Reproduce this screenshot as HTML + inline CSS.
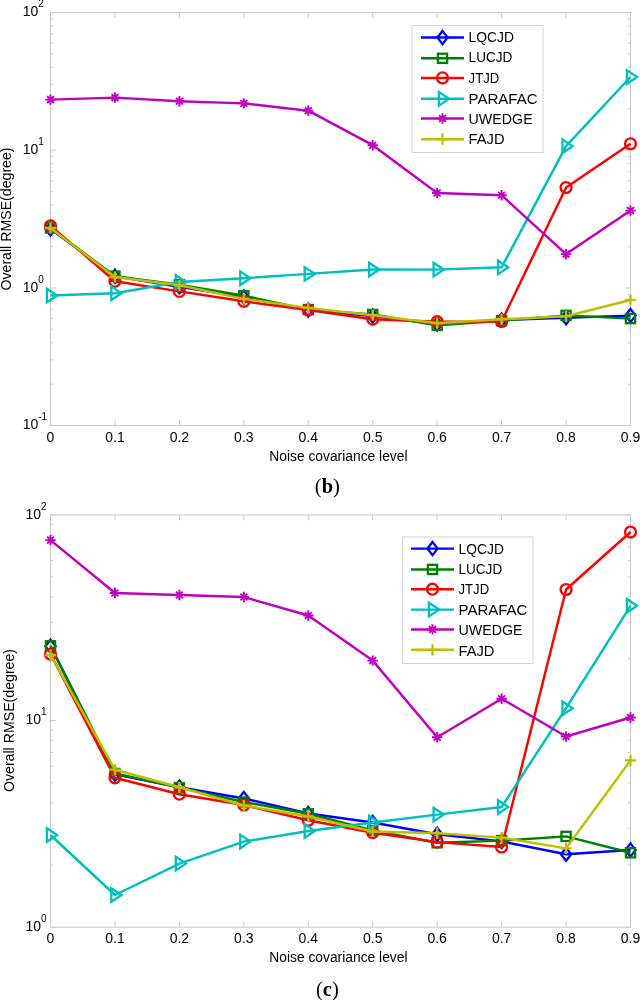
<!DOCTYPE html>
<html><head><meta charset="utf-8"><style>
html,body{margin:0;padding:0;background:#fff;width:640px;height:1000px;overflow:hidden}
svg{display:block}
.t{font-family:"Liberation Sans",Arial,sans-serif;font-size:14px;fill:#000}
.s{font-family:"Liberation Sans",Arial,sans-serif;font-size:10px;fill:#000}
.y{font-family:"Liberation Sans",Arial,sans-serif;font-size:14.6px;fill:#000}
.g{font-family:"Liberation Sans",Arial,sans-serif;font-size:15px;fill:#000}
.L{font-family:"Liberation Serif","Times New Roman",serif;font-size:20.5px;fill:#000}
</style></head><body>
<svg width="640" height="1000" viewBox="0 0 640 1000">
<rect x="50.5" y="12.5" width="580.0" height="413.0" fill="none" stroke="#cacaca" stroke-width="1"/>
<path d="M50.50 425.5v-5.5M50.50 12.5v5.5" stroke="#cacaca" stroke-width="1"/>
<text x="50.50" y="441.5" text-anchor="middle" class="t">0</text>
<path d="M114.94 425.5v-5.5M114.94 12.5v5.5" stroke="#cacaca" stroke-width="1"/>
<text x="114.94" y="441.5" text-anchor="middle" class="t">0.1</text>
<path d="M179.39 425.5v-5.5M179.39 12.5v5.5" stroke="#cacaca" stroke-width="1"/>
<text x="179.39" y="441.5" text-anchor="middle" class="t">0.2</text>
<path d="M243.83 425.5v-5.5M243.83 12.5v5.5" stroke="#cacaca" stroke-width="1"/>
<text x="243.83" y="441.5" text-anchor="middle" class="t">0.3</text>
<path d="M308.28 425.5v-5.5M308.28 12.5v5.5" stroke="#cacaca" stroke-width="1"/>
<text x="308.28" y="441.5" text-anchor="middle" class="t">0.4</text>
<path d="M372.72 425.5v-5.5M372.72 12.5v5.5" stroke="#cacaca" stroke-width="1"/>
<text x="372.72" y="441.5" text-anchor="middle" class="t">0.5</text>
<path d="M437.17 425.5v-5.5M437.17 12.5v5.5" stroke="#cacaca" stroke-width="1"/>
<text x="437.17" y="441.5" text-anchor="middle" class="t">0.6</text>
<path d="M501.61 425.5v-5.5M501.61 12.5v5.5" stroke="#cacaca" stroke-width="1"/>
<text x="501.61" y="441.5" text-anchor="middle" class="t">0.7</text>
<path d="M566.06 425.5v-5.5M566.06 12.5v5.5" stroke="#cacaca" stroke-width="1"/>
<text x="566.06" y="441.5" text-anchor="middle" class="t">0.8</text>
<path d="M630.50 425.5v-5.5M630.50 12.5v5.5" stroke="#cacaca" stroke-width="1"/>
<text x="630.50" y="441.5" text-anchor="middle" class="t">0.9</text>
<path d="M50.5 425.50h5.5M630.5 425.50h-5.5" stroke="#cacaca" stroke-width="1"/>
<text x="38.3" y="429.30" text-anchor="end" class="t">10</text>
<text x="38.199999999999996" y="420.10" class="s">-1</text>
<path d="M50.5 384.11h2.7M630.5 384.11h-2.7" stroke="#cacaca" stroke-width="1"/>
<path d="M50.5 359.90h2.7M630.5 359.90h-2.7" stroke="#cacaca" stroke-width="1"/>
<path d="M50.5 342.72h2.7M630.5 342.72h-2.7" stroke="#cacaca" stroke-width="1"/>
<path d="M50.5 329.39h2.7M630.5 329.39h-2.7" stroke="#cacaca" stroke-width="1"/>
<path d="M50.5 318.50h2.7M630.5 318.50h-2.7" stroke="#cacaca" stroke-width="1"/>
<path d="M50.5 309.30h2.7M630.5 309.30h-2.7" stroke="#cacaca" stroke-width="1"/>
<path d="M50.5 301.33h2.7M630.5 301.33h-2.7" stroke="#cacaca" stroke-width="1"/>
<path d="M50.5 294.29h2.7M630.5 294.29h-2.7" stroke="#cacaca" stroke-width="1"/>
<path d="M50.5 288.00h5.5M630.5 288.00h-5.5" stroke="#cacaca" stroke-width="1"/>
<text x="38.3" y="291.80" text-anchor="end" class="t">10</text>
<text x="38.199999999999996" y="282.60" class="s">0</text>
<path d="M50.5 246.52h2.7M630.5 246.52h-2.7" stroke="#cacaca" stroke-width="1"/>
<path d="M50.5 222.25h2.7M630.5 222.25h-2.7" stroke="#cacaca" stroke-width="1"/>
<path d="M50.5 205.04h2.7M630.5 205.04h-2.7" stroke="#cacaca" stroke-width="1"/>
<path d="M50.5 191.68h2.7M630.5 191.68h-2.7" stroke="#cacaca" stroke-width="1"/>
<path d="M50.5 180.77h2.7M630.5 180.77h-2.7" stroke="#cacaca" stroke-width="1"/>
<path d="M50.5 171.55h2.7M630.5 171.55h-2.7" stroke="#cacaca" stroke-width="1"/>
<path d="M50.5 163.55h2.7M630.5 163.55h-2.7" stroke="#cacaca" stroke-width="1"/>
<path d="M50.5 156.51h2.7M630.5 156.51h-2.7" stroke="#cacaca" stroke-width="1"/>
<path d="M50.5 150.20h5.5M630.5 150.20h-5.5" stroke="#cacaca" stroke-width="1"/>
<text x="38.3" y="154.00" text-anchor="end" class="t">10</text>
<text x="38.199999999999996" y="144.80" class="s">1</text>
<path d="M50.5 108.75h2.7M630.5 108.75h-2.7" stroke="#cacaca" stroke-width="1"/>
<path d="M50.5 84.50h2.7M630.5 84.50h-2.7" stroke="#cacaca" stroke-width="1"/>
<path d="M50.5 67.30h2.7M630.5 67.30h-2.7" stroke="#cacaca" stroke-width="1"/>
<path d="M50.5 53.95h2.7M630.5 53.95h-2.7" stroke="#cacaca" stroke-width="1"/>
<path d="M50.5 43.05h2.7M630.5 43.05h-2.7" stroke="#cacaca" stroke-width="1"/>
<path d="M50.5 33.83h2.7M630.5 33.83h-2.7" stroke="#cacaca" stroke-width="1"/>
<path d="M50.5 25.84h2.7M630.5 25.84h-2.7" stroke="#cacaca" stroke-width="1"/>
<path d="M50.5 18.80h2.7M630.5 18.80h-2.7" stroke="#cacaca" stroke-width="1"/>
<path d="M50.5 12.50h5.5M630.5 12.50h-5.5" stroke="#cacaca" stroke-width="1"/>
<text x="38.3" y="16.30" text-anchor="end" class="t">10</text>
<text x="38.199999999999996" y="7.10" class="s">2</text>
<text x="338.4" y="460.5" text-anchor="middle" class="t" textLength="138.2" lengthAdjust="spacingAndGlyphs">Noise covariance level</text>
<text transform="translate(10.6 219.0) rotate(-90)" text-anchor="middle" class="y" textLength="143.1" lengthAdjust="spacingAndGlyphs">Overall RMSE(degree)</text>
<text x="327.4" y="493.0" text-anchor="middle" class="L">(<tspan font-weight="bold">b</tspan>)</text>
<g clip-path="none"><polyline points="50.50,229.00 114.94,276.20 179.39,286.70 243.83,297.00 308.28,310.00 372.72,316.00 437.17,324.00 501.61,320.00 566.06,317.70 630.50,315.60" fill="none" stroke="#0000ff" stroke-width="2.45" stroke-linejoin="round"/>
<path d="M50.50 222.40L55.60 229.00L50.50 235.60L45.40 229.00Z" fill="none" stroke="#0000ff" stroke-width="2.3"/>
<path d="M114.94 269.60L120.04 276.20L114.94 282.80L109.84 276.20Z" fill="none" stroke="#0000ff" stroke-width="2.3"/>
<path d="M179.39 280.10L184.49 286.70L179.39 293.30L174.29 286.70Z" fill="none" stroke="#0000ff" stroke-width="2.3"/>
<path d="M243.83 290.40L248.93 297.00L243.83 303.60L238.73 297.00Z" fill="none" stroke="#0000ff" stroke-width="2.3"/>
<path d="M308.28 303.40L313.38 310.00L308.28 316.60L303.18 310.00Z" fill="none" stroke="#0000ff" stroke-width="2.3"/>
<path d="M372.72 309.40L377.82 316.00L372.72 322.60L367.62 316.00Z" fill="none" stroke="#0000ff" stroke-width="2.3"/>
<path d="M437.17 317.40L442.27 324.00L437.17 330.60L432.07 324.00Z" fill="none" stroke="#0000ff" stroke-width="2.3"/>
<path d="M501.61 313.40L506.71 320.00L501.61 326.60L496.51 320.00Z" fill="none" stroke="#0000ff" stroke-width="2.3"/>
<path d="M566.06 311.10L571.16 317.70L566.06 324.30L560.96 317.70Z" fill="none" stroke="#0000ff" stroke-width="2.3"/>
<path d="M630.50 309.00L635.60 315.60L630.50 322.20L625.40 315.60Z" fill="none" stroke="#0000ff" stroke-width="2.3"/>
<polyline points="50.50,228.00 114.94,276.20 179.39,284.60 243.83,295.70 308.28,309.60 372.72,314.50 437.17,325.40 501.61,320.80 566.06,315.40 630.50,318.60" fill="none" stroke="#008000" stroke-width="2.45" stroke-linejoin="round"/>
<rect x="45.90" y="223.40" width="9.2" height="9.2" fill="none" stroke="#008000" stroke-width="2.3"/>
<rect x="110.34" y="271.60" width="9.2" height="9.2" fill="none" stroke="#008000" stroke-width="2.3"/>
<rect x="174.79" y="280.00" width="9.2" height="9.2" fill="none" stroke="#008000" stroke-width="2.3"/>
<rect x="239.23" y="291.10" width="9.2" height="9.2" fill="none" stroke="#008000" stroke-width="2.3"/>
<rect x="303.68" y="305.00" width="9.2" height="9.2" fill="none" stroke="#008000" stroke-width="2.3"/>
<rect x="368.12" y="309.90" width="9.2" height="9.2" fill="none" stroke="#008000" stroke-width="2.3"/>
<rect x="432.57" y="320.80" width="9.2" height="9.2" fill="none" stroke="#008000" stroke-width="2.3"/>
<rect x="497.01" y="316.20" width="9.2" height="9.2" fill="none" stroke="#008000" stroke-width="2.3"/>
<rect x="561.46" y="310.80" width="9.2" height="9.2" fill="none" stroke="#008000" stroke-width="2.3"/>
<rect x="625.90" y="314.00" width="9.2" height="9.2" fill="none" stroke="#008000" stroke-width="2.3"/>
<polyline points="50.50,225.80 114.94,281.20 179.39,291.40 243.83,301.30 308.28,310.00 372.72,319.20 437.17,321.70 501.61,321.50 566.06,187.50 630.50,143.75" fill="none" stroke="#ff0000" stroke-width="2.45" stroke-linejoin="round"/>
<circle cx="50.50" cy="225.80" r="5.45" fill="none" stroke="#ff0000" stroke-width="2.3"/>
<circle cx="114.94" cy="281.20" r="5.45" fill="none" stroke="#ff0000" stroke-width="2.3"/>
<circle cx="179.39" cy="291.40" r="5.45" fill="none" stroke="#ff0000" stroke-width="2.3"/>
<circle cx="243.83" cy="301.30" r="5.45" fill="none" stroke="#ff0000" stroke-width="2.3"/>
<circle cx="308.28" cy="310.00" r="5.45" fill="none" stroke="#ff0000" stroke-width="2.3"/>
<circle cx="372.72" cy="319.20" r="5.45" fill="none" stroke="#ff0000" stroke-width="2.3"/>
<circle cx="437.17" cy="321.70" r="5.45" fill="none" stroke="#ff0000" stroke-width="2.3"/>
<circle cx="501.61" cy="321.50" r="5.45" fill="none" stroke="#ff0000" stroke-width="2.3"/>
<circle cx="566.06" cy="187.50" r="5.45" fill="none" stroke="#ff0000" stroke-width="2.3"/>
<circle cx="630.50" cy="143.75" r="5.45" fill="none" stroke="#ff0000" stroke-width="2.3"/>
<polyline points="50.50,295.50 114.94,293.20 179.39,282.00 243.83,278.20 308.28,273.90 372.72,269.50 437.17,269.60 501.61,267.30 566.06,146.20 630.50,77.00" fill="none" stroke="#00bfbf" stroke-width="2.45" stroke-linejoin="round"/>
<path d="M46.90 288.70L57.10 295.50L46.90 302.30Z" fill="none" stroke="#00bfbf" stroke-width="2.3" stroke-linejoin="miter"/>
<path d="M111.34 286.40L121.54 293.20L111.34 300.00Z" fill="none" stroke="#00bfbf" stroke-width="2.3" stroke-linejoin="miter"/>
<path d="M175.79 275.20L185.99 282.00L175.79 288.80Z" fill="none" stroke="#00bfbf" stroke-width="2.3" stroke-linejoin="miter"/>
<path d="M240.23 271.40L250.43 278.20L240.23 285.00Z" fill="none" stroke="#00bfbf" stroke-width="2.3" stroke-linejoin="miter"/>
<path d="M304.68 267.10L314.88 273.90L304.68 280.70Z" fill="none" stroke="#00bfbf" stroke-width="2.3" stroke-linejoin="miter"/>
<path d="M369.12 262.70L379.32 269.50L369.12 276.30Z" fill="none" stroke="#00bfbf" stroke-width="2.3" stroke-linejoin="miter"/>
<path d="M433.57 262.80L443.77 269.60L433.57 276.40Z" fill="none" stroke="#00bfbf" stroke-width="2.3" stroke-linejoin="miter"/>
<path d="M498.01 260.50L508.21 267.30L498.01 274.10Z" fill="none" stroke="#00bfbf" stroke-width="2.3" stroke-linejoin="miter"/>
<path d="M562.46 139.40L572.66 146.20L562.46 153.00Z" fill="none" stroke="#00bfbf" stroke-width="2.3" stroke-linejoin="miter"/>
<path d="M626.90 70.20L637.10 77.00L626.90 83.80Z" fill="none" stroke="#00bfbf" stroke-width="2.3" stroke-linejoin="miter"/>
<polyline points="50.50,99.60 114.94,97.60 179.39,101.30 243.83,103.40 308.28,110.70 372.72,145.20 437.17,193.00 501.61,195.20 566.06,254.10 630.50,210.60" fill="none" stroke="#bf00bf" stroke-width="2.45" stroke-linejoin="round"/>
<path d="M50.50 94.40V104.80M45.30 99.60H55.70M47.10 96.20L53.90 103.00M47.10 103.00L53.90 96.20" stroke="#bf00bf" stroke-width="1.9"/>
<path d="M114.94 92.40V102.80M109.74 97.60H120.14M111.54 94.20L118.34 101.00M111.54 101.00L118.34 94.20" stroke="#bf00bf" stroke-width="1.9"/>
<path d="M179.39 96.10V106.50M174.19 101.30H184.59M175.99 97.90L182.79 104.70M175.99 104.70L182.79 97.90" stroke="#bf00bf" stroke-width="1.9"/>
<path d="M243.83 98.20V108.60M238.63 103.40H249.03M240.43 100.00L247.23 106.80M240.43 106.80L247.23 100.00" stroke="#bf00bf" stroke-width="1.9"/>
<path d="M308.28 105.50V115.90M303.08 110.70H313.48M304.88 107.30L311.68 114.10M304.88 114.10L311.68 107.30" stroke="#bf00bf" stroke-width="1.9"/>
<path d="M372.72 140.00V150.40M367.52 145.20H377.92M369.32 141.80L376.12 148.60M369.32 148.60L376.12 141.80" stroke="#bf00bf" stroke-width="1.9"/>
<path d="M437.17 187.80V198.20M431.97 193.00H442.37M433.77 189.60L440.57 196.40M433.77 196.40L440.57 189.60" stroke="#bf00bf" stroke-width="1.9"/>
<path d="M501.61 190.00V200.40M496.41 195.20H506.81M498.21 191.80L505.01 198.60M498.21 198.60L505.01 191.80" stroke="#bf00bf" stroke-width="1.9"/>
<path d="M566.06 248.90V259.30M560.86 254.10H571.26M562.66 250.70L569.46 257.50M562.66 257.50L569.46 250.70" stroke="#bf00bf" stroke-width="1.9"/>
<path d="M630.50 205.40V215.80M625.30 210.60H635.70M627.10 207.20L633.90 214.00M627.10 214.00L633.90 207.20" stroke="#bf00bf" stroke-width="1.9"/>
<polyline points="50.50,228.00 114.94,277.00 179.39,285.30 243.83,298.90 308.28,307.90 372.72,315.20 437.17,323.20 501.61,319.20 566.06,316.30 630.50,300.00" fill="none" stroke="#bfbf00" stroke-width="2.45" stroke-linejoin="round"/>
<path d="M50.50 222.40V233.60M44.90 228.00H56.10" stroke="#bfbf00" stroke-width="2.3"/>
<path d="M114.94 271.40V282.60M109.34 277.00H120.54" stroke="#bfbf00" stroke-width="2.3"/>
<path d="M179.39 279.70V290.90M173.79 285.30H184.99" stroke="#bfbf00" stroke-width="2.3"/>
<path d="M243.83 293.30V304.50M238.23 298.90H249.43" stroke="#bfbf00" stroke-width="2.3"/>
<path d="M308.28 302.30V313.50M302.68 307.90H313.88" stroke="#bfbf00" stroke-width="2.3"/>
<path d="M372.72 309.60V320.80M367.12 315.20H378.32" stroke="#bfbf00" stroke-width="2.3"/>
<path d="M437.17 317.60V328.80M431.57 323.20H442.77" stroke="#bfbf00" stroke-width="2.3"/>
<path d="M501.61 313.60V324.80M496.01 319.20H507.21" stroke="#bfbf00" stroke-width="2.3"/>
<path d="M566.06 310.70V321.90M560.46 316.30H571.66" stroke="#bfbf00" stroke-width="2.3"/>
<path d="M630.50 294.40V305.60M624.90 300.00H636.10" stroke="#bfbf00" stroke-width="2.3"/></g>
<rect x="412.0" y="25.5" width="131.0" height="127.0" fill="#fff" stroke="#d4d4d4" stroke-width="1"/>
<path d="M421 37.56H464" stroke="#0000ff" stroke-width="2.45"/>
<path d="M442.50 30.96L447.60 37.56L442.50 44.16L437.40 37.56Z" fill="none" stroke="#0000ff" stroke-width="2.3"/>
<text x="468.6" y="42.3" class="g" textLength="45.4" lengthAdjust="spacingAndGlyphs">LQCJD</text>
<path d="M421 58.3H464" stroke="#008000" stroke-width="2.45"/>
<rect x="437.90" y="53.70" width="9.2" height="9.2" fill="none" stroke="#008000" stroke-width="2.3"/>
<text x="468.6" y="62.0" class="g" textLength="43.7" lengthAdjust="spacingAndGlyphs">LUCJD</text>
<path d="M421 77.9H464" stroke="#ff0000" stroke-width="2.45"/>
<circle cx="442.50" cy="77.90" r="5.45" fill="none" stroke="#ff0000" stroke-width="2.3"/>
<text x="468.6" y="82.6" class="g" textLength="30.6" lengthAdjust="spacingAndGlyphs">JTJD</text>
<path d="M421 98.8H464" stroke="#00bfbf" stroke-width="2.45"/>
<path d="M438.90 92.00L449.10 98.80L438.90 105.60Z" fill="none" stroke="#00bfbf" stroke-width="2.3" stroke-linejoin="miter"/>
<text x="468.6" y="103.6" class="g" textLength="68.95" lengthAdjust="spacingAndGlyphs">PARAFAC</text>
<path d="M421 118.5H464" stroke="#bf00bf" stroke-width="2.45"/>
<path d="M442.50 113.30V123.70M437.30 118.50H447.70M439.10 115.10L445.90 121.90M439.10 121.90L445.90 115.10" stroke="#bf00bf" stroke-width="1.9"/>
<text x="468.6" y="124.1" class="g" textLength="64.06" lengthAdjust="spacingAndGlyphs">UWEDGE</text>
<path d="M421 139.2H464" stroke="#bfbf00" stroke-width="2.45"/>
<path d="M442.50 133.60V144.80M436.90 139.20H448.10" stroke="#bfbf00" stroke-width="2.3"/>
<text x="468.6" y="144.0" class="g" textLength="36.0" lengthAdjust="spacingAndGlyphs">FAJD</text>
<rect x="50.5" y="515.0" width="580.0" height="412.20000000000005" fill="none" stroke="#cacaca" stroke-width="1"/>
<path d="M50.50 927.2v-5.5M50.50 515.0v5.5" stroke="#cacaca" stroke-width="1"/>
<text x="50.50" y="943.2" text-anchor="middle" class="t">0</text>
<path d="M114.94 927.2v-5.5M114.94 515.0v5.5" stroke="#cacaca" stroke-width="1"/>
<text x="114.94" y="943.2" text-anchor="middle" class="t">0.1</text>
<path d="M179.39 927.2v-5.5M179.39 515.0v5.5" stroke="#cacaca" stroke-width="1"/>
<text x="179.39" y="943.2" text-anchor="middle" class="t">0.2</text>
<path d="M243.83 927.2v-5.5M243.83 515.0v5.5" stroke="#cacaca" stroke-width="1"/>
<text x="243.83" y="943.2" text-anchor="middle" class="t">0.3</text>
<path d="M308.28 927.2v-5.5M308.28 515.0v5.5" stroke="#cacaca" stroke-width="1"/>
<text x="308.28" y="943.2" text-anchor="middle" class="t">0.4</text>
<path d="M372.72 927.2v-5.5M372.72 515.0v5.5" stroke="#cacaca" stroke-width="1"/>
<text x="372.72" y="943.2" text-anchor="middle" class="t">0.5</text>
<path d="M437.17 927.2v-5.5M437.17 515.0v5.5" stroke="#cacaca" stroke-width="1"/>
<text x="437.17" y="943.2" text-anchor="middle" class="t">0.6</text>
<path d="M501.61 927.2v-5.5M501.61 515.0v5.5" stroke="#cacaca" stroke-width="1"/>
<text x="501.61" y="943.2" text-anchor="middle" class="t">0.7</text>
<path d="M566.06 927.2v-5.5M566.06 515.0v5.5" stroke="#cacaca" stroke-width="1"/>
<text x="566.06" y="943.2" text-anchor="middle" class="t">0.8</text>
<path d="M630.50 927.2v-5.5M630.50 515.0v5.5" stroke="#cacaca" stroke-width="1"/>
<text x="630.50" y="943.2" text-anchor="middle" class="t">0.9</text>
<path d="M50.5 927.20h5.5M630.5 927.20h-5.5" stroke="#cacaca" stroke-width="1"/>
<text x="41.1" y="931.00" text-anchor="end" class="t">10</text>
<text x="41.0" y="921.80" class="s">0</text>
<path d="M50.5 864.98h2.7M630.5 864.98h-2.7" stroke="#cacaca" stroke-width="1"/>
<path d="M50.5 828.58h2.7M630.5 828.58h-2.7" stroke="#cacaca" stroke-width="1"/>
<path d="M50.5 802.75h2.7M630.5 802.75h-2.7" stroke="#cacaca" stroke-width="1"/>
<path d="M50.5 782.72h2.7M630.5 782.72h-2.7" stroke="#cacaca" stroke-width="1"/>
<path d="M50.5 766.36h2.7M630.5 766.36h-2.7" stroke="#cacaca" stroke-width="1"/>
<path d="M50.5 752.52h2.7M630.5 752.52h-2.7" stroke="#cacaca" stroke-width="1"/>
<path d="M50.5 740.53h2.7M630.5 740.53h-2.7" stroke="#cacaca" stroke-width="1"/>
<path d="M50.5 729.96h2.7M630.5 729.96h-2.7" stroke="#cacaca" stroke-width="1"/>
<path d="M50.5 720.50h5.5M630.5 720.50h-5.5" stroke="#cacaca" stroke-width="1"/>
<text x="41.1" y="724.30" text-anchor="end" class="t">10</text>
<text x="41.0" y="715.10" class="s">1</text>
<path d="M50.5 658.64h2.7M630.5 658.64h-2.7" stroke="#cacaca" stroke-width="1"/>
<path d="M50.5 622.45h2.7M630.5 622.45h-2.7" stroke="#cacaca" stroke-width="1"/>
<path d="M50.5 596.78h2.7M630.5 596.78h-2.7" stroke="#cacaca" stroke-width="1"/>
<path d="M50.5 576.86h2.7M630.5 576.86h-2.7" stroke="#cacaca" stroke-width="1"/>
<path d="M50.5 560.59h2.7M630.5 560.59h-2.7" stroke="#cacaca" stroke-width="1"/>
<path d="M50.5 546.83h2.7M630.5 546.83h-2.7" stroke="#cacaca" stroke-width="1"/>
<path d="M50.5 534.92h2.7M630.5 534.92h-2.7" stroke="#cacaca" stroke-width="1"/>
<path d="M50.5 524.40h2.7M630.5 524.40h-2.7" stroke="#cacaca" stroke-width="1"/>
<path d="M50.5 515.00h5.5M630.5 515.00h-5.5" stroke="#cacaca" stroke-width="1"/>
<text x="41.1" y="518.80" text-anchor="end" class="t">10</text>
<text x="41.0" y="509.60" class="s">2</text>
<text x="338.4" y="961.8" text-anchor="middle" class="t" textLength="138.2" lengthAdjust="spacingAndGlyphs">Noise covariance level</text>
<text transform="translate(14.2 720.5) rotate(-90)" text-anchor="middle" class="y" textLength="143.1" lengthAdjust="spacingAndGlyphs">Overall RMSE(degree)</text>
<text x="327.4" y="995.6" text-anchor="middle" class="L">(<tspan font-weight="bold">c</tspan>)</text>
<polyline points="50.50,646.30 114.94,774.30 179.39,787.30 243.83,798.50 308.28,813.50 372.72,822.50 437.17,834.20 501.61,841.40 566.06,854.20 630.50,850.00" fill="none" stroke="#0000ff" stroke-width="2.45" stroke-linejoin="round"/>
<path d="M50.50 639.70L55.60 646.30L50.50 652.90L45.40 646.30Z" fill="none" stroke="#0000ff" stroke-width="2.3"/>
<path d="M114.94 767.70L120.04 774.30L114.94 780.90L109.84 774.30Z" fill="none" stroke="#0000ff" stroke-width="2.3"/>
<path d="M179.39 780.70L184.49 787.30L179.39 793.90L174.29 787.30Z" fill="none" stroke="#0000ff" stroke-width="2.3"/>
<path d="M243.83 791.90L248.93 798.50L243.83 805.10L238.73 798.50Z" fill="none" stroke="#0000ff" stroke-width="2.3"/>
<path d="M308.28 806.90L313.38 813.50L308.28 820.10L303.18 813.50Z" fill="none" stroke="#0000ff" stroke-width="2.3"/>
<path d="M372.72 815.90L377.82 822.50L372.72 829.10L367.62 822.50Z" fill="none" stroke="#0000ff" stroke-width="2.3"/>
<path d="M437.17 827.60L442.27 834.20L437.17 840.80L432.07 834.20Z" fill="none" stroke="#0000ff" stroke-width="2.3"/>
<path d="M501.61 834.80L506.71 841.40L501.61 848.00L496.51 841.40Z" fill="none" stroke="#0000ff" stroke-width="2.3"/>
<path d="M566.06 847.60L571.16 854.20L566.06 860.80L560.96 854.20Z" fill="none" stroke="#0000ff" stroke-width="2.3"/>
<path d="M630.50 843.40L635.60 850.00L630.50 856.60L625.40 850.00Z" fill="none" stroke="#0000ff" stroke-width="2.3"/>
<polyline points="50.50,645.80 114.94,773.50 179.39,787.60 243.83,802.00 308.28,813.80 372.72,830.50 437.17,842.80 501.61,840.60 566.06,836.40 630.50,852.80" fill="none" stroke="#008000" stroke-width="2.45" stroke-linejoin="round"/>
<rect x="45.90" y="641.20" width="9.2" height="9.2" fill="none" stroke="#008000" stroke-width="2.3"/>
<rect x="110.34" y="768.90" width="9.2" height="9.2" fill="none" stroke="#008000" stroke-width="2.3"/>
<rect x="174.79" y="783.00" width="9.2" height="9.2" fill="none" stroke="#008000" stroke-width="2.3"/>
<rect x="239.23" y="797.40" width="9.2" height="9.2" fill="none" stroke="#008000" stroke-width="2.3"/>
<rect x="303.68" y="809.20" width="9.2" height="9.2" fill="none" stroke="#008000" stroke-width="2.3"/>
<rect x="368.12" y="825.90" width="9.2" height="9.2" fill="none" stroke="#008000" stroke-width="2.3"/>
<rect x="432.57" y="838.20" width="9.2" height="9.2" fill="none" stroke="#008000" stroke-width="2.3"/>
<rect x="497.01" y="836.00" width="9.2" height="9.2" fill="none" stroke="#008000" stroke-width="2.3"/>
<rect x="561.46" y="831.80" width="9.2" height="9.2" fill="none" stroke="#008000" stroke-width="2.3"/>
<rect x="625.90" y="848.20" width="9.2" height="9.2" fill="none" stroke="#008000" stroke-width="2.3"/>
<polyline points="50.50,654.00 114.94,777.80 179.39,794.20 243.83,805.00 308.28,820.30 372.72,832.70 437.17,842.10 501.61,847.00 566.06,589.50 630.50,532.00" fill="none" stroke="#ff0000" stroke-width="2.45" stroke-linejoin="round"/>
<circle cx="50.50" cy="654.00" r="5.45" fill="none" stroke="#ff0000" stroke-width="2.3"/>
<circle cx="114.94" cy="777.80" r="5.45" fill="none" stroke="#ff0000" stroke-width="2.3"/>
<circle cx="179.39" cy="794.20" r="5.45" fill="none" stroke="#ff0000" stroke-width="2.3"/>
<circle cx="243.83" cy="805.00" r="5.45" fill="none" stroke="#ff0000" stroke-width="2.3"/>
<circle cx="308.28" cy="820.30" r="5.45" fill="none" stroke="#ff0000" stroke-width="2.3"/>
<circle cx="372.72" cy="832.70" r="5.45" fill="none" stroke="#ff0000" stroke-width="2.3"/>
<circle cx="437.17" cy="842.10" r="5.45" fill="none" stroke="#ff0000" stroke-width="2.3"/>
<circle cx="501.61" cy="847.00" r="5.45" fill="none" stroke="#ff0000" stroke-width="2.3"/>
<circle cx="566.06" cy="589.50" r="5.45" fill="none" stroke="#ff0000" stroke-width="2.3"/>
<circle cx="630.50" cy="532.00" r="5.45" fill="none" stroke="#ff0000" stroke-width="2.3"/>
<polyline points="50.50,835.00 114.94,895.00 179.39,863.60 243.83,841.60 308.28,831.00 372.72,822.50 437.17,814.60 501.61,807.00 566.06,708.20 630.50,605.80" fill="none" stroke="#00bfbf" stroke-width="2.45" stroke-linejoin="round"/>
<path d="M46.90 828.20L57.10 835.00L46.90 841.80Z" fill="none" stroke="#00bfbf" stroke-width="2.3" stroke-linejoin="miter"/>
<path d="M111.34 888.20L121.54 895.00L111.34 901.80Z" fill="none" stroke="#00bfbf" stroke-width="2.3" stroke-linejoin="miter"/>
<path d="M175.79 856.80L185.99 863.60L175.79 870.40Z" fill="none" stroke="#00bfbf" stroke-width="2.3" stroke-linejoin="miter"/>
<path d="M240.23 834.80L250.43 841.60L240.23 848.40Z" fill="none" stroke="#00bfbf" stroke-width="2.3" stroke-linejoin="miter"/>
<path d="M304.68 824.20L314.88 831.00L304.68 837.80Z" fill="none" stroke="#00bfbf" stroke-width="2.3" stroke-linejoin="miter"/>
<path d="M369.12 815.70L379.32 822.50L369.12 829.30Z" fill="none" stroke="#00bfbf" stroke-width="2.3" stroke-linejoin="miter"/>
<path d="M433.57 807.80L443.77 814.60L433.57 821.40Z" fill="none" stroke="#00bfbf" stroke-width="2.3" stroke-linejoin="miter"/>
<path d="M498.01 800.20L508.21 807.00L498.01 813.80Z" fill="none" stroke="#00bfbf" stroke-width="2.3" stroke-linejoin="miter"/>
<path d="M562.46 701.40L572.66 708.20L562.46 715.00Z" fill="none" stroke="#00bfbf" stroke-width="2.3" stroke-linejoin="miter"/>
<path d="M626.90 599.00L637.10 605.80L626.90 612.60Z" fill="none" stroke="#00bfbf" stroke-width="2.3" stroke-linejoin="miter"/>
<polyline points="50.50,540.10 114.94,593.00 179.39,595.00 243.83,597.00 308.28,615.50 372.72,660.60 437.17,737.30 501.61,698.70 566.06,736.50 630.50,717.50" fill="none" stroke="#bf00bf" stroke-width="2.45" stroke-linejoin="round"/>
<path d="M50.50 534.90V545.30M45.30 540.10H55.70M47.10 536.70L53.90 543.50M47.10 543.50L53.90 536.70" stroke="#bf00bf" stroke-width="1.9"/>
<path d="M114.94 587.80V598.20M109.74 593.00H120.14M111.54 589.60L118.34 596.40M111.54 596.40L118.34 589.60" stroke="#bf00bf" stroke-width="1.9"/>
<path d="M179.39 589.80V600.20M174.19 595.00H184.59M175.99 591.60L182.79 598.40M175.99 598.40L182.79 591.60" stroke="#bf00bf" stroke-width="1.9"/>
<path d="M243.83 591.80V602.20M238.63 597.00H249.03M240.43 593.60L247.23 600.40M240.43 600.40L247.23 593.60" stroke="#bf00bf" stroke-width="1.9"/>
<path d="M308.28 610.30V620.70M303.08 615.50H313.48M304.88 612.10L311.68 618.90M304.88 618.90L311.68 612.10" stroke="#bf00bf" stroke-width="1.9"/>
<path d="M372.72 655.40V665.80M367.52 660.60H377.92M369.32 657.20L376.12 664.00M369.32 664.00L376.12 657.20" stroke="#bf00bf" stroke-width="1.9"/>
<path d="M437.17 732.10V742.50M431.97 737.30H442.37M433.77 733.90L440.57 740.70M433.77 740.70L440.57 733.90" stroke="#bf00bf" stroke-width="1.9"/>
<path d="M501.61 693.50V703.90M496.41 698.70H506.81M498.21 695.30L505.01 702.10M498.21 702.10L505.01 695.30" stroke="#bf00bf" stroke-width="1.9"/>
<path d="M566.06 731.30V741.70M560.86 736.50H571.26M562.66 733.10L569.46 739.90M562.66 739.90L569.46 733.10" stroke="#bf00bf" stroke-width="1.9"/>
<path d="M630.50 712.30V722.70M625.30 717.50H635.70M627.10 714.10L633.90 720.90M627.10 720.90L633.90 714.10" stroke="#bf00bf" stroke-width="1.9"/>
<polyline points="50.50,655.00 114.94,769.70 179.39,787.30 243.83,805.50 308.28,816.50 372.72,831.50 437.17,833.20 501.61,837.60 566.06,848.40 630.50,760.40" fill="none" stroke="#bfbf00" stroke-width="2.45" stroke-linejoin="round"/>
<path d="M50.50 649.40V660.60M44.90 655.00H56.10" stroke="#bfbf00" stroke-width="2.3"/>
<path d="M114.94 764.10V775.30M109.34 769.70H120.54" stroke="#bfbf00" stroke-width="2.3"/>
<path d="M179.39 781.70V792.90M173.79 787.30H184.99" stroke="#bfbf00" stroke-width="2.3"/>
<path d="M243.83 799.90V811.10M238.23 805.50H249.43" stroke="#bfbf00" stroke-width="2.3"/>
<path d="M308.28 810.90V822.10M302.68 816.50H313.88" stroke="#bfbf00" stroke-width="2.3"/>
<path d="M372.72 825.90V837.10M367.12 831.50H378.32" stroke="#bfbf00" stroke-width="2.3"/>
<path d="M437.17 827.60V838.80M431.57 833.20H442.77" stroke="#bfbf00" stroke-width="2.3"/>
<path d="M501.61 832.00V843.20M496.01 837.60H507.21" stroke="#bfbf00" stroke-width="2.3"/>
<path d="M566.06 842.80V854.00M560.46 848.40H571.66" stroke="#bfbf00" stroke-width="2.3"/>
<path d="M630.50 754.80V766.00M624.90 760.40H636.10" stroke="#bfbf00" stroke-width="2.3"/>
<rect x="402.5" y="537.0" width="130.5" height="126.5" fill="#fff" stroke="#d4d4d4" stroke-width="1"/>
<path d="M411 548.6H454" stroke="#0000ff" stroke-width="2.45"/>
<path d="M432.50 542.00L437.60 548.60L432.50 555.20L427.40 548.60Z" fill="none" stroke="#0000ff" stroke-width="2.3"/>
<text x="458.5" y="553.7" class="g" textLength="45.4" lengthAdjust="spacingAndGlyphs">LQCJD</text>
<path d="M411 569.4H454" stroke="#008000" stroke-width="2.45"/>
<rect x="427.90" y="564.80" width="9.2" height="9.2" fill="none" stroke="#008000" stroke-width="2.3"/>
<text x="458.5" y="573.6" class="g" textLength="43.7" lengthAdjust="spacingAndGlyphs">LUCJD</text>
<path d="M411 589.2H454" stroke="#ff0000" stroke-width="2.45"/>
<circle cx="432.50" cy="589.20" r="5.45" fill="none" stroke="#ff0000" stroke-width="2.3"/>
<text x="458.5" y="594.0" class="g" textLength="30.6" lengthAdjust="spacingAndGlyphs">JTJD</text>
<path d="M411 609.6H454" stroke="#00bfbf" stroke-width="2.45"/>
<path d="M428.90 602.80L439.10 609.60L428.90 616.40Z" fill="none" stroke="#00bfbf" stroke-width="2.3" stroke-linejoin="miter"/>
<text x="458.5" y="615.0" class="g" textLength="68.95" lengthAdjust="spacingAndGlyphs">PARAFAC</text>
<path d="M411 629.4H454" stroke="#bf00bf" stroke-width="2.45"/>
<path d="M432.50 624.20V634.60M427.30 629.40H437.70M429.10 626.00L435.90 632.80M429.10 632.80L435.90 626.00" stroke="#bf00bf" stroke-width="1.9"/>
<text x="458.5" y="635.4" class="g" textLength="64.06" lengthAdjust="spacingAndGlyphs">UWEDGE</text>
<path d="M411 649.8H454" stroke="#bfbf00" stroke-width="2.45"/>
<path d="M432.50 644.20V655.40M426.90 649.80H438.10" stroke="#bfbf00" stroke-width="2.3"/>
<text x="458.5" y="655.6" class="g" textLength="36.0" lengthAdjust="spacingAndGlyphs">FAJD</text>
</svg>
</body></html>
